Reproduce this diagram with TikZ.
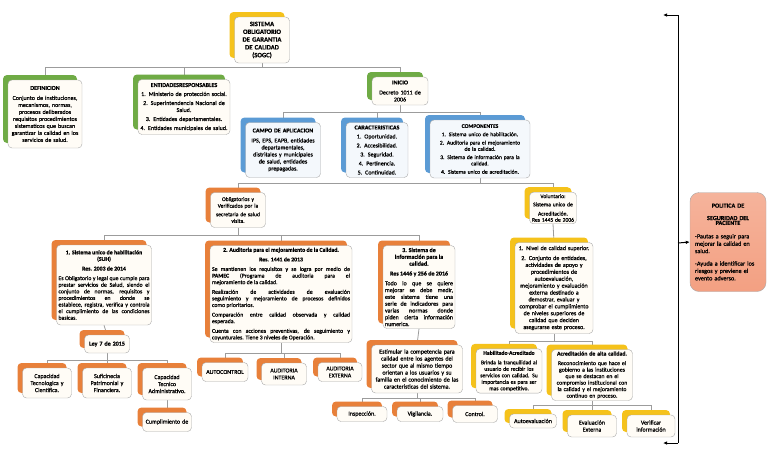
\documentclass[tikz,border=0pt]{standalone}
\usepackage{fontspec}
\setmainfont{Carlito}
\newfontfamily\cuerpo{Carlito}[FakeBold=0.6]
\usetikzlibrary{arrows.meta}
\usetikzlibrary{shadows}
\usetikzlibrary{backgrounds}
\definecolor{naranja}{HTML}{E8803A}
\definecolor{verde}{HTML}{6FAB45}
\definecolor{azul}{HTML}{5B9BD5}
\definecolor{amarillo}{HTML}{F5C21B}
\definecolor{crema}{HTML}{FFFCF6}
\definecolor{celeste}{HTML}{F4F8FC}
\definecolor{salmon}{HTML}{F3A082}
\definecolor{borde}{HTML}{A8A8A8}
\definecolor{linea}{HTML}{9C9C9C}
\hyphenpenalty=10000
\exhyphenpenalty=10000
\tolerance=9999
\tikzset{
    caja/.style={draw=borde, fill=crema, rounded corners=4pt, align=center,
        inner sep=2pt, font=\cuerpo\fontsize{6}{7}\selectfont,
        general shadow={fill=#1, shadow xshift=-5pt, shadow yshift=5pt}},
    link/.style={draw=linea, line width=0.8pt},
    flecha/.style={line width=1pt, -{Latex[length=4pt,width=3.5pt]}}
}

\begin{document}
\begin{tikzpicture}[x=1pt,y=-1pt]
    \useasboundingbox (0,0) rectangle (768,467);

    % nivel 1
    \node[caja=amarillo, text width=51pt, minimum height=46pt,
        font=\cuerpo\bfseries\fontsize{6.6}{7.8}\selectfont] (sogc) at (262,40)
    {SISTEMA\\OBLIGATORIO\\DE GARANTIA\\DE CALIDAD\\(SOGC)};

    \node[caja=verde, text width=70pt, minimum height=68pt] (def) at (45,114)
    {\textbf{DEFINICION}\\[3pt] Conjunto de instituciones,\\ mecanismos, normas,\\
    procesos deliberados\\ requisitos procedimientos\\ sistematicos que buscan\\
    garantizar la calidad en los\\ servicios de salud.};
    \node[caja=verde, text width=88pt, minimum height=55pt] (ent) at (184,107)
    {\textbf{ENTIDADESRESPONSABLES}\\[2pt] 1. Ministerio de protección social.\\[2pt]
    2. Superintendencia Nacional de\\ Salud.\\[2pt] 3. Entidades departamentales.\\[2pt]
    4. Entidades municipales de salud.};
    \node[caja=verde, text width=52pt, minimum height=28pt] (inicio) at (400,91)
    {\textbf{INICIO}\\[3pt] Decreto 1011 de\\ 2006};

    % nivel 2
    \node[caja=azul, fill=celeste, text width=71pt, minimum height=55pt] (campo) at (283,150)
    {\textbf{CAMPO DE APLICACION}\\[3pt] IPS, EPS, EAPB, entidades\\ departamentales,\\
    distritales y municipales\\ de salud, entidades\\ prepagadas.};
    \node[caja=azul, fill=celeste, text width=58pt, minimum height=55pt] (car) at (377,150)
    {\textbf{CARACTERISTICAS}\\[2pt] 1. Oportunidad.\\[2pt] 2. Accesibilidad.\\[2pt]
    3. Seguridad.\\[2pt] 4. Pertinencia.\\[2pt] 5. Continuidad.};
    \node[caja=azul, fill=celeste, text width=96pt, minimum height=58pt,
        font=\cuerpo\fontsize{5.6}{6.3}\selectfont] (comp) at (480,149)
    {\textbf{COMPONENTES}\\[2pt] 1. Sistema unico de habilitación.\\[2pt]
    2. Auditoria para el mejoramiento\\ de la calidad.\\[2pt]
    3. Sistema de información para la\\ calidad.\\[2pt] 4. Sistema unico de acreditación.};

    % obligatorio / voluntario
    \node[caja=naranja, text width=51pt, minimum height=35pt,
        font=\cuerpo\fontsize{5.6}{6.6}\selectfont] (oblig) at (238,210)
    {Obligatorios y\\ Verificados por la\\[2pt] secretaria de salud\\ visita.};
    \node[caja=amarillo, text width=43pt, minimum height=31pt,
        font=\cuerpo\fontsize{5.6}{6.2}\selectfont] (vol) at (553,208)
    {Voluntario:\\[2pt] Sistema unico de\\[3pt] Acreditación.\\ Res 1445 de 2006};

    % sistema unico de habilitacion
    \node[caja=naranja, text width=91pt, minimum height=80pt, align=justify,
        font=\cuerpo\fontsize{5.8}{6.6}\selectfont] (suh) at (104,285)
    {{\centering\textbf{1. Sistema unico de habilitación\\(SUH)}\par\vspace{3pt}
    \textbf{Res. 2003 de 2014}\par}\vspace{3pt}
    Es Obligatorio y legal que cumple para\linebreak prestar servicios de Salud, siendo el\linebreak
    conjunto de normas, requisitos y\linebreak procedimientos en donde se\linebreak establece,
    registra, verifica y controla\linebreak el cumplimiento de las condiciones\linebreak basicas.};
    \node[caja=naranja, text width=41pt, minimum height=18pt] (ley) at (107,344)
    {\textbf{Ley 7 de 2015}};
    \node[caja=naranja, text width=45pt, minimum height=30pt] (capt) at (47,383)
    {Capacidad\\ Tecnologica y\\ Cientifica.};
    \node[caja=naranja, text width=45pt, minimum height=30pt] (suf) at (107,383)
    {Suficinecia\\ Patrimonial y\\ Financiera.};
    \node[caja=naranja, text width=45pt, minimum height=32pt] (capa) at (167,384)
    {Capacidad\\ Tecnico\\ Administrativo.};
    \node[caja=naranja, text width=45pt, minimum height=19pt] (cump) at (167,422)
    {Cumplimiento de};

    % auditoria
    \node[caja=naranja, text width=138pt, minimum height=97pt, align=justify,
        font=\cuerpo\fontsize{5.8}{6.6}\selectfont] (aud) at (281,294)
    {{\centering\textbf{2. Auditoria para el mejoramiento de la Calidad.}\par\vspace{3pt}
    \textbf{Res. 1441 de 2013}\par}\vspace{3pt}
    Se mantienen los requisitos y se logra por medio de\linebreak \textbf{PAMEC} (Programa de
    auditoria para el\linebreak mejoramiento de la calidad.\par\vspace{3pt}
    Realización de actividades de evaluación\linebreak seguimiento y mejoramiento de procesos
    definidos\linebreak como prioritarios.\par\vspace{3pt}
    Comparación entre calidad observada y calidad\linebreak esperada.\par\vspace{3pt}
    Cuenta con acciones preventivas, de seguimiento y\linebreak coyunturales. Tiene 3 niveles
    de Operación.};
    \node[caja=naranja, text width=42pt, minimum height=19pt] (autoc) at (225,372)
    {AUTOCONTROL};
    \node[caja=naranja, text width=41pt, minimum height=22pt] (audi) at (284,374)
    {AUDITORIA\\ INTERNA};
    \node[caja=naranja, text width=40pt, minimum height=19pt] (aude) at (340,372)
    {AUDITORIA\\ EXTERNA};

    % sistema de informacion
    \node[caja=naranja, text width=68pt, minimum height=83pt, align=justify,
        font=\cuerpo\fontsize{6}{6.8}\selectfont] (sic) at (419,287)
    {{\centering\textbf{3. Sistema de\\ información para la\\ calidad.}\par\vspace{3pt}
    \textbf{Res 1446 y 256 de 2016}\par}\vspace{3pt}
    Todo lo que se quiere\linebreak mejorar se debe medir,\linebreak este sistema tiene una\linebreak
    serie de indicadores para\linebreak varias normas donde\linebreak piden cierta información\linebreak
    numerica.};
    \node[caja=naranja, text width=87pt, minimum height=48pt] (est) at (417,369)
    {Estimular la competencia para\\ calidad entre los agentes del\\
    sector que al mismo tiempo\\ orientan a los usuarios y su\\
    familia en el conocimiento de las\\ caracteristicas del sistema.};
    \node[caja=naranja, text width=46pt, minimum height=15pt] (insp) at (362,414)
    {Inspección.};
    \node[caja=naranja, text width=42pt, minimum height=15pt] (vig) at (420,414)
    {Vigilancia.};
    \node[caja=naranja, text width=41pt, minimum height=17pt] (ctrl) at (475,414)
    {Control.};

    % acreditacion
    \node[caja=amarillo, text width=74pt, minimum height=91pt,
        font=\cuerpo\fontsize{6}{6.9}\selectfont] (niv) at (554,288)
    {1. Nivel de calidad superior.\\[3pt] 2. Conjunto de entidades,\\ actividades de apoyo y\\
    procedimientos de\\ autoevaluación,\\ mejoramiento y evaluación\\ externa destinado a\\
    demostrar, evaluar y\\ comprobar el cumplimiento\\ de niveles superiores de\\
    calidad que deciden\\ asegurarse este proceso.};
    \node[caja=amarillo, text width=62pt, minimum height=43pt,
        font=\cuerpo\fontsize{5.6}{6.5}\selectfont] (hab) at (509,371)
    {\textbf{Habilitado-Acreditado}\\[3pt] Brinda la tranquilidad al\\ usuario de recibir los\\
    servicios con calidad. Su\\ importancia es para ser\\ mas competitivo.};
    \node[caja=amarillo, text width=77pt, minimum height=50pt,
        font=\cuerpo\fontsize{5.8}{6.5}\selectfont] (alta) at (592,375)
    {\textbf{Acreditación de alta calidad.}\\[3pt] Reconocimiento que hace el\\
    gobierno a las instituciones\\ que se destacan en el\\ compromiso institucional con\\
    la calidad y el mejoramiento\\ continuo en proceso.};
    \node[caja=amarillo, text width=43pt, minimum height=14pt] (autoe) at (533,421)
    {Autoevaluación};
    \node[caja=amarillo, text width=45pt, minimum height=22pt] (evex) at (592,426)
    {Evaluación\\ Externa};
    \node[caja=amarillo, text width=44pt, minimum height=22pt] (veri) at (651,426)
    {Verificar\\ información};

    % politica
    \node[draw=borde, rounded corners=9pt, top color=salmon!80, bottom color=salmon,
        text width=66pt, minimum height=99pt, inner sep=5pt, align=left,
        font=\cuerpo\fontsize{6.2}{7.4}\selectfont] (pol) at (728,242)
    {{\centering\textbf{POLITICA DE}\par\vspace{5pt}
    \textbf{SEGURIDAD DEL}\\[-2.5pt]\textbf{PACIENTE}\par}\vspace{6pt}
    -Pautas a seguir para\\ mejorar la calidad en\\ salud.\par\vspace{5pt}
    -Ayuda a identificar los\\ riesgos y previene el\\ evento adverso.};

    \coordinate (ba) at (678,15);
    \coordinate (bm) at (678,243);
    \coordinate (bb) at (678,443);
    \draw[line width=1pt] (ba) -- (bb);
    \draw[flecha] (ba) -- ++(-15,0);
    \draw[flecha] (bb) -- ++(-15,0);
    \draw[flecha] (bm) -- (pol.west);

    \begin{scope}[on background layer]
    \draw[link] (sogc.south) -- (sogc.south |- 0,67);
    \draw[link] (def.north) |- (inicio.north |- 0,67) -- (inicio.north);
    \draw[link] (ent.north) -- (ent.north |- 0,67);

    \draw[link] (inicio.south) -- (inicio.south |- 0,112);
    \draw[link] (campo.north) |- (comp.north |- 0,112) -- (comp.north);
    \draw[link] (car.north) -- (car.north |- 0,112);

    \draw[link] (comp.south) -- (comp.south |- 0,183);
    \draw[link] (oblig.north) |- (vol.north |- 0,183) -- (vol.north);

    \draw[link] (oblig.south) -- (oblig.south |- 0,235);
    \draw[link] (suh.north) |- (sic.north |- 0,235) -- (sic.north);
    \draw[link] (aud.north) -- (aud.north |- 0,235);

    \draw[link] (suh.south) -- (ley.north);
    \draw[link] (ley.south) -- (ley.south |- 0,360);
    \draw[link] (capt.north) |- (capa.north |- 0,360) -- (capa.north);
    \draw[link] (suf.north) -- (suf.north |- 0,360);
    \draw[link] (capa.south) -- (cump.north);

    \draw[link] (aud.south) -- (aud.south |- 0,353);
    \draw[link] (autoc.north) |- (aude.north |- 0,353) -- (aude.north);
    \draw[link] (audi.north) -- (audi.north |- 0,353);

    \draw[link] (sic.south) -- (est.north);
    \draw[link] (est.south) -- (est.south |- 0,398);
    \draw[link] (insp.north) |- (ctrl.north |- 0,398) -- (ctrl.north);
    \draw[link] (vig.north) -- (vig.north |- 0,398);

    \draw[link] (vol.south) -- (niv.north);
    \draw[link] (niv.south) -- (niv.south |- 0,341);
    \draw[link] (hab.north) |- (alta.north |- 0,341) -- (alta.north);

    \draw[link] (alta.south) -- (alta.south |- 0,405);
    \draw[link] (autoe.north) |- (veri.north |- 0,405) -- (veri.north);
    \draw[link] (evex.north) -- (evex.north |- 0,405);
    \end{scope}
\end{tikzpicture}
\end{document}
